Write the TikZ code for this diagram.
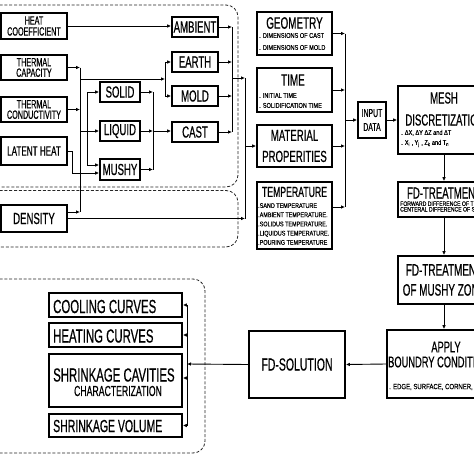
\documentclass[tikz,border=0pt]{standalone}
\usepackage{fontspec}
\usetikzlibrary{arrows.meta}
\newfontfamily\cf[FakeStretch=0.6,FakeBold=0.5]{Liberation Sans}
\newfontfamily\cfn[FakeStretch=0.8,FakeBold=0.3]{Liberation Sans}
\newcommand\fz[2]{\fontsize{#1}{#2}\selectfont}
\begin{document}
\begin{tikzpicture}[x=1pt,y=-1pt,
  bx/.style={draw, line width=1.7pt, inner sep=0pt, align=center},
  tx/.style={inner sep=0pt, align=center},
  arr/.style={line width=0.9pt, -{Latex[length=4pt,width=3.6pt]}},
  ln/.style={line width=0.9pt},
  dsh/.style={line width=0.8pt, black!85, dash pattern=on 3pt off 1.8pt, rounded corners=12pt}]
\useasboundingbox[fill=white] (0,0) rectangle (474,474);
\clip (0,0) rectangle (474,474);

% dashed groups
\draw[dsh] (-10,5) -- (238,5) -- (238,187) -- (-10,187);
\draw[dsh] (-10,190.5) -- (238,190.5) -- (238,247) -- (-10,247);
\draw[dsh] (-10,279) -- (205,279) -- (205,453) -- (-10,453);

% left column
\node[bx, minimum width=66, minimum height=26, font=\cf\fz{12}{11}] (hc) at (34,26) {HEAT\\COOEFFICIENT};
\node[bx, minimum width=66, minimum height=25, font=\cf\fz{12}{10.5}] (tc) at (34,67.5) {THERMAL\\CAPACITY};
\node[bx, minimum width=66, minimum height=25, font=\cf\fz{12}{10.5}] (tcd) at (34,109.5) {THERMAL\\CONDUCTIVITY};
\node[bx, minimum width=66, minimum height=28, font=\cf\fz{13.5}{14}] (lh) at (34,151) {LATENT HEAT};
\node[bx, minimum width=66, minimum height=27, font=\cf\fz{16}{16}] (den) at (34,218.5) {DENSITY};

% phases
\node[bx, minimum width=40, minimum height=20, font=\cf\fz{16}{16}] (solid) at (120,92) {SOLID};
\node[bx, minimum width=40, minimum height=20, font=\cf\fz{16}{16}] (liquid) at (120,131) {LIQUID};
\node[bx, minimum width=40, minimum height=21, font=\cf\fz{16}{16}] (mushy) at (120,169.5) {MUSHY};

% media
\node[bx, minimum width=46, minimum height=20, font=\cf\fz{16}{16}] (ambient) at (195,27) {AMBIENT};
\node[bx, minimum width=46, minimum height=20, font=\cf\fz{16}{16}] (earth) at (195,62) {EARTH};
\node[bx, minimum width=46, minimum height=20, font=\cf\fz{16}{16}] (mold) at (195,96) {MOLD};
\node[bx, minimum width=46, minimum height=20, font=\cf\fz{16}{16}] (cast) at (195,132) {CAST};

% bus coordinates
\coordinate (b1t) at (80,67.5);
\coordinate (b1b) at (80,212);
\coordinate (b1a) at (80,79);
\coordinate (b2) at (165,79);
\coordinate (b3) at (87,131);
\coordinate (lk) at (72,173);
\coordinate (b4) at (153,131);
\coordinate (b5) at (232,78);
\coordinate (b6) at (245,78);

% left connectors
\draw[arr] (hc.east) -- (hc.east -| ambient.west);
\draw[arr] (tc.east) -- (tc.east -| b1t);
\draw[arr] (tcd.east) -- (tcd.east -| b1t);
\draw[arr] ([yshift=6.5pt]den.east) -- (b1b);
\draw[ln] (b1t) -- (b1b);
\draw[arr] (b1a) -- (b2);
\draw[ln] (b2 |- earth.west) -- (b2 |- mold.west);
\draw[arr] (b2 |- earth.west) -- (earth.west);
\draw[arr] (b2 |- mold.west) -- (mold.west);
\draw[arr] (b1t |- liquid.west) -- (liquid.west);
\draw[ln] (b3 |- solid.west) -- (b3 |- 0,165);
\draw[arr] (b3 |- solid.west) -- (solid.west);
\draw[arr] (b3 |- 0,165) -- ([yshift=4.5pt]mushy.west);
\draw[arr] (lh.east) -- (lh.east -| lk) -- (lk) -- ([yshift=-3.5pt]mushy.west);
\draw[arr] (solid.east) -- (solid.east -| b4);
\draw[arr] (mushy.east) -- (mushy.east -| b4);
\draw[ln] (solid.east -| b4) -- (mushy.east -| b4);
\draw[arr] (liquid.east) -- (b4);
\draw[arr] (b4) -- (cast.west |- b4);
\draw[arr] (ambient.east) -- (ambient.east -| b5);
\draw[arr] (earth.east) -- (earth.east -| b5);
\draw[arr] (mold.east) -- (mold.east -| b5);
\draw[arr] (cast.east) -- (cast.east -| b5);
\draw[ln] (ambient.east -| b5) -- (cast.east -| b5);
\draw[arr] (b5) -- (b6);
\draw[arr] (den.east) -- (den.east -| b6);
\draw[ln] (b6) -- (den.east -| b6);

% input column
\node[bx, minimum width=75, minimum height=43] (geo) at (294.5,33.5) {};
\node[tx, font=\cf\fz{16.5}{16.5}] (geot) at (294.5,23) {GEOMETRY};
\node[tx, anchor=west, align=left, font=\cfn\fz{7}{12}] (geos) at (259,41.5) {. DIMENSIONS OF CAST\\. DIMENSIONS OF MOLD};

\node[bx, minimum width=75, minimum height=44] (time) at (294.5,90) {};
\node[tx, font=\cf\fz{16.5}{16.5}] (timet) at (293,80) {TIME};
\node[tx, anchor=west, align=left, font=\cfn\fz{7}{10}] (times) at (259,100.5) {. INITIAL TIME\\. SOLIDIFICATION TIME};

\node[bx, minimum width=75, minimum height=42, font=\cf\fz{16}{21}] (mat) at (294.5,146) {MATERIAL\\PROPERITIES};

\node[bx, minimum width=75, minimum height=67] (temp) at (294.5,215.5) {};
\node[tx, font=\cf\fz{14.5}{14.5}] (tempt) at (294.5,192) {TEMPERATURE};
\node[tx, anchor=west, align=left, font=\cfn\fz{6.8}{9.2}] (temps) at (258,224) {.SAND TEMPERATURE\\.AMBIENT TEMPERATURE.\\.SOLIDUS TEMPERATURE.\\.LIQUIDUS TEMPERATURE.\\.POURING TEMPERATURE};

\draw[arr] (b6 |- mat.west) -- (mat.west);

\coordinate (b7) at (345,120);
\coordinate (t7) at (345,207);
\node[bx, minimum width=28, minimum height=36, font=\cf\fz{11.5}{14}] (input) at (372,120) {INPUT\\DATA};
\draw[arr] (geo.east) -- (geo.east -| b7);
\draw[arr] (time.east) -- (time.east -| b7);
\draw[arr] (mat.east) -- (mat.east -| b7);
\draw[arr] ([yshift=8.5pt]temp.east) -- (t7);
\draw[ln] (geo.east -| b7) -- (t7);
\draw[arr] (b7) -- (input.west);

% processing column
\node[bx, minimum width=92, minimum height=68] (mesh) at (444,120) {};
\node[tx, font=\cf\fz{16}{16}] (mesht) at (444,98) {MESH};
\node[tx, font=\cf\fz{16}{16}] (meshd) at (445,120) {DISCRETIZATION};
\node[tx, anchor=west, align=left, font=\cfn\fz{7}{10}] (meshs) at (401,138.5) {. ΔX, ΔY ΔZ and ΔT\\. X\textsubscript{i} , Y\textsubscript{j} , Z\textsubscript{k} and T\textsubscript{n}};
\draw[arr] (input.east) -- (mesh.west);

\node[bx, minimum width=92, minimum height=35] (fdt) at (444,199.5) {};
\node[tx, font=\cf\fz{16}{16}] (fdtt) at (444,193) {FD-TREATMENT};
\node[tx, anchor=west, align=left, font=\cfn\fz{6.4}{5.6}] (fdts) at (400,206.5) {FORWARD DIFFERENCE OF T\\CENTERAL DIFFERENCE OF S};
\draw[arr] (mesh.south) -- (fdt.north);

\node[bx, minimum width=92, minimum height=48, font=\cf\fz{16.5}{20}] (fdm) at (444,280) {FD-TREATMENT\\OF MUSHY ZONE};
\draw[arr] (fdt.south) -- (fdm.north);

\node[bx, minimum width=116, minimum height=68] (apply) at (445,364) {};
\node[tx, font=\cf\fz{15.5}{15.5}] (applyt) at (446,347) {APPLY};
\node[tx, anchor=west, font=\cf\fz{15.5}{15.5}] (applyb) at (388,362) {BOUNDRY CONDITIONS};
\node[tx, anchor=west, font=\cfn\fz{7.5}{7.5}] (applys) at (389,387) {. EDGE, SURFACE, CORNER,};
\draw[arr] (fdm.south) -- (fdm.south |- apply.north);

\node[bx, minimum width=96, minimum height=67, font=\cf\fz{17.5}{17.5}] (fds) at (297,364.5) {FD-SOLUTION};
\draw[arr] (apply.west) -- (fds.east);

% outputs
\node[bx, minimum width=133, minimum height=24] (cool) at (115.5,305) {};
\node[tx, anchor=west, font=\cf\fz{19}{19}] (coolt) at (53,306.5) {COOLING CURVES};
\node[bx, minimum width=133, minimum height=24] (heatc) at (115.5,335) {};
\node[tx, anchor=west, font=\cf\fz{19}{19}] (heatct) at (53,336) {HEATING CURVES};
\node[bx, minimum width=133, minimum height=53] (shr) at (115.5,380.5) {};
\node[tx, anchor=west, font=\cf\fz{19}{19}] (shrt) at (53,375) {SHRINKAGE CAVITIES};
\node[tx, font=\cf\fz{14.5}{14.5}] (shrc) at (118,391) {CHARACTERIZATION};
\node[bx, minimum width=133, minimum height=23] (vol) at (115.5,425.5) {};
\node[tx, anchor=west, font=\cf\fz{17.5}{17.5}] (volt) at (53,426) {SHRINKAGE VOLUME};

\coordinate (b8) at (187,364);
\draw[arr] (fds.west) -- (b8);
\draw[ln] (b8 |- cool.east) -- (b8 |- vol.east);
\draw[arr] (b8 |- cool.east) -- (cool.east);
\draw[arr] (b8 |- heatc.east) -- (heatc.east);
\draw[arr] (b8 |- 0,378) -- (shr.east |- 0,378);
\draw[arr] (b8 |- vol.east) -- (vol.east);
\end{tikzpicture}
\end{document}
